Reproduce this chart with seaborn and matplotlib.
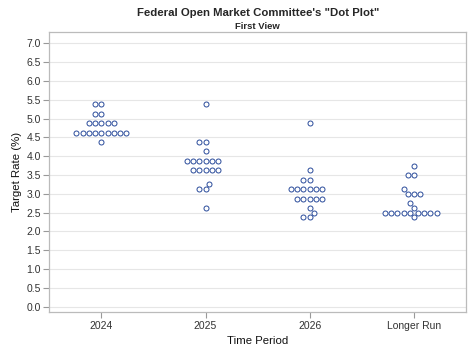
import numpy as np
import pandas as pd
import matplotlib
matplotlib.use("Agg")
import matplotlib.pyplot as plt
import seaborn as sns

periods = ["2024", "2025", "2026", "Longer Run"]

# (rate, number of participants)
dots_2024 = [(5.375, 2), (5.125, 2), (4.875, 5), (4.625, 9), (4.375, 1)]
dots_2025 = [(5.375, 1), (4.375, 2), (4.125, 1), (3.875, 6), (3.625, 5),
             (3.25, 1), (3.125, 2), (2.625, 1)]
dots_2026 = [(4.875, 1), (3.625, 1), (3.375, 2), (3.125, 6), (2.875, 5),
             (2.625, 1), (2.5, 1), (2.375, 2)]
dots_longer = [(3.75, 1), (3.5, 2), (3.125, 1), (3.0, 3), (2.75, 1),
               (2.625, 1), (2.5, 9), (2.375, 1)]

rows = []
for period, dots in zip(periods, [dots_2024, dots_2025, dots_2026, dots_longer]):
    for rate, n in dots:
        rows += [{"period": period, "rate": rate}] * n
df = pd.DataFrame(rows)

sns.set_style("white")
plt.rcParams["font.family"] = ["Liberation Sans", "DejaVu Sans"]

fig = plt.figure(figsize=(4.74, 3.55), dpi=100)
ax = fig.add_axes([0.104, 0.12, 0.879, 0.79])

ax.set_yticks(np.arange(0, 7.01, 0.5))
ax.yaxis.grid(True, color="#e6e6e6", linewidth=0.8)
ax.set_axisbelow(True)

sns.swarmplot(data=df, x="period", y="rate", order=periods, ax=ax,
              size=3.6, color="white", edgecolor="#2b4c9b", linewidth=0.7,
              zorder=3)

ax.set_ylim(-0.15, 7.3)
ax.set_xlim(-0.5, 3.5)
ax.set_yticklabels([f"{v:.1f}" for v in np.arange(0, 7.01, 0.5)])
ax.tick_params(axis="both", which="both", length=4, color="#999999",
               labelsize=7.5, labelcolor="#333333", direction="out",
               left=True, bottom=True, pad=2)
for s in ax.spines.values():
    s.set_color("#bbbbbb")
    s.set_linewidth(0.9)

ax.set_xlabel("Time Period", fontsize=8.2, color="#111111", labelpad=4)
ax.set_ylabel("Target Rate (%)", fontsize=8.2, color="#111111")
ax.yaxis.set_label_coords(-0.066, 0.5)

# titles are centred on the plot area
fig.text(0.544, 0.962, "Federal Open Market Committee's \"Dot Plot\"",
         ha="center", va="center", fontsize=8.2, fontweight="bold")
fig.text(0.544, 0.924, "First View", ha="center", va="center",
         fontsize=6.8, fontweight="bold")

fig.savefig("out.png", dpi=100)
